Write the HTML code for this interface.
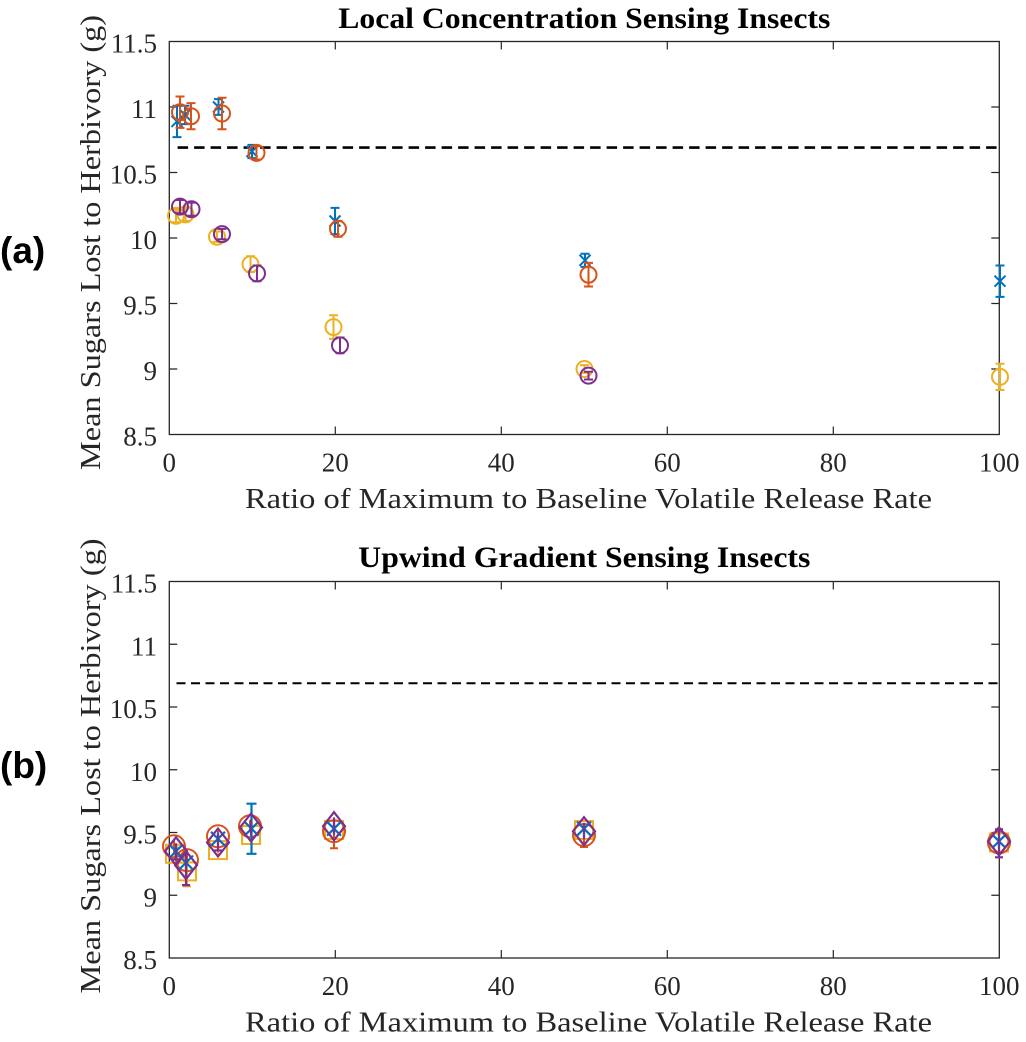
<!DOCTYPE html>
<html>
<head>
<meta charset="utf-8">
<style>
html,body{margin:0;padding:0;background:#fff;}
svg{display:block;}
text{font-family:"Liberation Serif","Times New Roman",serif;fill:#262626;}
.pl{font-family:"Liberation Sans",Arial,sans-serif;font-weight:bold;fill:#000;}
</style>
</head>
<body>
<svg width="1026" height="1042" viewBox="0 0 1026 1042" xmlns="http://www.w3.org/2000/svg">
<rect width="1026" height="1042" fill="#fff"/>

<!-- ============ PANEL (a) ============ -->
<text class="pl" x="0" y="263" font-size="37">(a)</text>
<text x="584.3" y="28" font-size="30" font-weight="bold" text-anchor="middle" fill="#000" textLength="492" lengthAdjust="spacingAndGlyphs" style="fill:#000">Local Concentration Sensing Insects</text>

<!-- axes box -->
<rect x="169.3" y="41.5" width="830" height="393" fill="none" stroke="#262626" stroke-width="1.3"/>
<!-- ticks -->
<g stroke="#262626" stroke-width="1.2">
<path d="M335.3 434.5v-8M501.3 434.5v-8M667.3 434.5v-8M833.3 434.5v-8M335.3 41.5v8M501.3 41.5v8M667.3 41.5v8M833.3 41.5v8"/>
<path d="M169.3 107h8M169.3 172.5h8M169.3 238h8M169.3 303.5h8M169.3 369h8M999.3 107h-8M999.3 172.5h-8M999.3 238h-8M999.3 303.5h-8M999.3 369h-8"/>
</g>
<!-- tick labels -->
<g font-size="27" text-anchor="middle">
<text x="169.3" y="471.5">0</text>
<text x="335.3" y="471.5">20</text>
<text x="501.3" y="471.5">40</text>
<text x="667.3" y="471.5">60</text>
<text x="833.3" y="471.5">80</text>
<text x="999.3" y="471.5">100</text>
</g>
<g font-size="27" text-anchor="end">
<text x="157" y="52.5">11.5</text>
<text x="157" y="118">11</text>
<text x="157" y="183.5">10.5</text>
<text x="157" y="249">10</text>
<text x="157" y="314.5">9.5</text>
<text x="157" y="380">9</text>
<text x="157" y="445.5">8.5</text>
</g>
<text x="588.5" y="508" font-size="29" text-anchor="middle" textLength="687" lengthAdjust="spacingAndGlyphs">Ratio of Maximum to Baseline Volatile Release Rate</text>
<text transform="translate(100,242.5) rotate(-90)" font-size="29" text-anchor="middle" textLength="455" lengthAdjust="spacingAndGlyphs">Mean Sugars Lost to Herbivory (g)</text>

<!-- dashed baseline -->
<line x1="177.6" y1="147.6" x2="999.3" y2="147.6" stroke="#000" stroke-width="2.6" stroke-dasharray="10.5,6"/>

<!-- blue x markers -->
<g stroke="#0072BD" stroke-width="2" fill="none">
<path d="M177 105.7V137.1M172.5 105.7h9M172.5 137.1h9 M171.5 115.9l11 11M171.5 126.9l11 -11"/>
<path d="M185 105.7V124.1M180.5 105.7h9M180.5 124.1h9 M179.5 109.4l11 11M179.5 120.4l11 -11"/>
<path d="M218.5 99.1V114.9M214 99.1h9M214 114.9h9 M213 101.5l11 11M213 112.5l11 -11"/>
<path d="M252 144.9V158.1M247.5 144.9h9M247.5 158.1h9 M246.5 146l11 11M246.5 157l11 -11"/>
<path d="M335 207.9V234.1M330.5 207.9h9M330.5 234.1h9 M329.5 215.5l11 11M329.5 226.5l11 -11"/>
<path d="M585 253.7V266.9M580.5 253.7h9M580.5 266.9h9 M579.5 254.8l11 11M579.5 265.8l11 -11"/>
<path d="M1000 265.5V296.9M995.5 265.5h9M995.5 296.9h9 M994.5 275.7l11 11M994.5 286.7l11 -11"/>
</g>
<!-- orange circles -->
<g stroke="#D95319" stroke-width="2" fill="none">
<path d="M180 96.5V127.9M175.5 96.5h9M175.5 127.9h9"/><circle cx="180" cy="112.2" r="8"/>
<path d="M191 103.1V129.3M186.5 103.1h9M186.5 129.3h9"/><circle cx="191" cy="116.2" r="8"/>
<path d="M222 97.8V129.2M217.5 97.8h9M217.5 129.2h9"/><circle cx="222" cy="113.5" r="8"/>
<path d="M256.5 146.3V159.5M252 146.3h9M252 159.5h9"/><circle cx="256.5" cy="152.9" r="8"/>
<path d="M338 220.9V236.7M333.5 220.9h9M333.5 236.7h9"/><circle cx="338" cy="228.8" r="8"/>
<path d="M588.5 262.9V286.5M584 262.9h9M584 286.5h9"/><circle cx="588.5" cy="274.7" r="8"/>
</g>
<!-- yellow circles -->
<g stroke="#EDB120" stroke-width="2" fill="none">
<path d="M176 209.1V222.3M171.5 209.1h9M171.5 222.3h9"/><circle cx="176" cy="215.7" r="8"/>
<path d="M185.5 207.8V221M181 207.8h9M181 221h9"/><circle cx="185.5" cy="214.4" r="8"/>
<path d="M217 231.5V241.9M212.5 231.5h9M212.5 241.9h9"/><circle cx="217" cy="236.7" r="8"/>
<path d="M250.5 256.3V272.1M246 256.3h9M246 272.1h9"/><circle cx="250.5" cy="264.2" r="8"/>
<path d="M333.5 315.3V338.9M329 315.3h9M329 338.9h9"/><circle cx="333.5" cy="327.1" r="8"/>
<path d="M584.5 365.1V372.9M580 365.1h9M580 372.9h9"/><circle cx="584.5" cy="369" r="8"/>
<path d="M1000 363.8V390M995.5 363.8h9M995.5 390h9"/><circle cx="1000" cy="376.9" r="8"/>
</g>
<!-- purple circles -->
<g stroke="#7E2F8E" stroke-width="2" fill="none">
<path d="M180 200V213.2M175.5 200h9M175.5 213.2h9"/><circle cx="180" cy="206.6" r="8"/>
<path d="M191.5 202.6V215.8M187 202.6h9M187 215.8h9"/><circle cx="191.5" cy="209.2" r="8"/>
<path d="M222 228.9V239.3M217.5 228.9h9M217.5 239.3h9"/><circle cx="222" cy="234.1" r="8"/>
<path d="M257 265.5V281.3M252.5 265.5h9M252.5 281.3h9"/><circle cx="257" cy="273.4" r="8"/>
<path d="M340 337.5V353.3M335.5 337.5h9M335.5 353.3h9"/><circle cx="340" cy="345.4" r="8"/>
<path d="M588.5 371.7V379.5M584 371.7h9M584 379.5h9"/><circle cx="588.5" cy="375.6" r="8"/>
</g>

<!-- ============ PANEL (b) ============ -->
<text class="pl" x="0" y="778" font-size="37">(b)</text>
<text x="584.3" y="567" font-size="30" font-weight="bold" text-anchor="middle" textLength="452" lengthAdjust="spacingAndGlyphs" style="fill:#000">Upwind Gradient Sensing Insects</text>

<rect x="169.3" y="581.5" width="830" height="376.5" fill="none" stroke="#262626" stroke-width="1.3"/>
<g stroke="#262626" stroke-width="1.2">
<path d="M335.3 958v-8M501.3 958v-8M667.3 958v-8M833.3 958v-8M335.3 581.5v8M501.3 581.5v8M667.3 581.5v8M833.3 581.5v8"/>
<path d="M169.3 644.25h8M169.3 707h8M169.3 769.75h8M169.3 832.5h8M169.3 895.25h8M999.3 644.25h-8M999.3 707h-8M999.3 769.75h-8M999.3 832.5h-8M999.3 895.25h-8"/>
</g>
<g font-size="27" text-anchor="middle">
<text x="169.3" y="995">0</text>
<text x="335.3" y="995">20</text>
<text x="501.3" y="995">40</text>
<text x="667.3" y="995">60</text>
<text x="833.3" y="995">80</text>
<text x="999.3" y="995">100</text>
</g>
<g font-size="27" text-anchor="end">
<text x="157" y="592.5">11.5</text>
<text x="157" y="655.25">11</text>
<text x="157" y="718">10.5</text>
<text x="157" y="780.75">10</text>
<text x="157" y="843.5">9.5</text>
<text x="157" y="906.25">9</text>
<text x="157" y="969">8.5</text>
</g>
<text x="588.5" y="1031.5" font-size="29" text-anchor="middle" textLength="687" lengthAdjust="spacingAndGlyphs">Ratio of Maximum to Baseline Volatile Release Rate</text>
<text transform="translate(100,766) rotate(-90)" font-size="29" text-anchor="middle" textLength="455" lengthAdjust="spacingAndGlyphs">Mean Sugars Lost to Herbivory (g)</text>

<line x1="176.5" y1="683.2" x2="999.3" y2="683.2" stroke="#000" stroke-width="2" stroke-dasharray="9,5.5"/>

<!-- yellow squares -->
<g stroke="#EDB120" stroke-width="2" fill="none">
<path d="M175 847.8V859.8M171 847.8h8M171 859.8h8"/><rect x="166" y="844.8" width="18" height="18"/>
<path d="M187 856.4V886.4M183 886.4h8"/><rect x="178" y="862.4" width="18" height="18"/>
<path d="M218 844.1V856.1"/><rect x="209" y="841.1" width="18" height="18"/>
<path d="M251 829V841"/><rect x="242" y="826" width="18" height="18"/>
<rect x="325" y="821" width="18" height="18"/>
<rect x="575" y="821" width="18" height="18"/>
<rect x="990" y="833.5" width="18" height="18"/>
</g>
<!-- orange circles -->
<g stroke="#D95319" stroke-width="2" fill="none">
<path d="M174 840.3V852.3"/><circle cx="174" cy="846.3" r="11"/>
<path d="M187 854.1V866.1"/><circle cx="187" cy="860.1" r="11"/>
<path d="M218 830.3V842.3"/><circle cx="218" cy="836.3" r="11"/>
<path d="M250 820.2V832.2"/><circle cx="250" cy="826.2" r="11"/>
<path d="M334 817.2V848.2M330 848.2h8"/><circle cx="334" cy="831.2" r="11"/>
<path d="M584 823V847M580 847h8"/><circle cx="584" cy="835" r="11"/>
<path d="M999 836.5V848.5"/><circle cx="999" cy="842.5" r="11"/>
</g>
<!-- blue x -->
<g stroke="#0072BD" stroke-width="2.2" fill="none">
<path d="M176 844.3V858.3 M169 844.3l14 14M169 858.3l14 -14"/>
<path d="M186 855.6V869.6 M179 855.6l14 14M179 869.6l14 -14"/>
<path d="M218 832.8V844.8 M211 831.8l14 14M211 845.8l14 -14"/>
<path d="M251.5 803.7V853.8M246.5 803.7h10M246.5 853.8h10 M244.5 821.7l14 14M244.5 835.7l14 -14"/>
<path d="M334 822.7V834.7 M327 821.7l14 14M327 835.7l14 -14"/>
<path d="M584 822.7V834.7 M577 821.7l14 14M577 835.7l14 -14"/>
<path d="M999 834.3V848.3 M992 834.3l14 14M992 848.3l14 -14"/>
</g>
<!-- purple diamonds -->
<g stroke="#7E2F8E" stroke-width="2.2" fill="none">
<path d="M176 843.3V859.3M172 859.3h8"/><path d="M176 837.3L187 851.3L176 865.3L165 851.3Z"/>
<path d="M186 851.1V885.1M182 885.1h8"/><path d="M186 851.1L197 865.1L186 879.1L175 865.1Z"/>
<path d="M218 834.5V850.5M214 850.5h8"/><path d="M218 828.5L229 842.5L218 856.5L207 842.5Z"/>
<path d="M251 819.5V835.5"/><path d="M251 813.5L262 827.5L251 841.5L240 827.5Z"/>
<path d="M334 818.2V834.2"/><path d="M334 812.2L345 826.2L334 840.2L323 826.2Z"/>
<path d="M584 823.2V839.2"/><path d="M584 817.2L595 831.2L584 845.2L573 831.2Z"/>
<path d="M999 829.3V857.3M995 829.3h8M995 857.3h8"/><path d="M999 827.3L1010 841.3L999 855.3L988 841.3Z"/>
</g>
</svg>
</body>
</html>
